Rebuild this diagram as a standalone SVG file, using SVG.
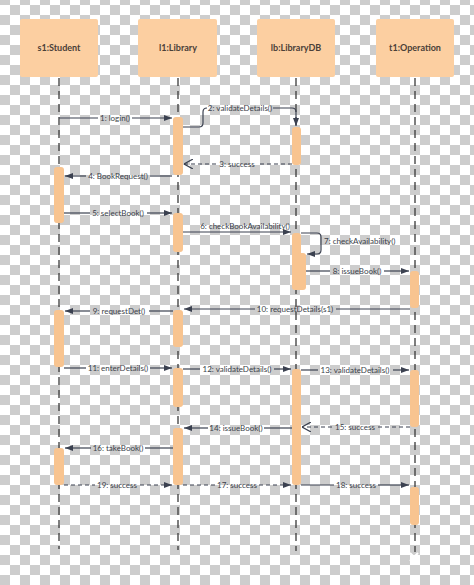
<svg xmlns="http://www.w3.org/2000/svg" width="474" height="585" viewBox="0 0 474 585">
<defs>
<pattern id="chk" x="0" y="5" width="20" height="20" patternUnits="userSpaceOnUse">
<rect width="20" height="20" fill="#ffffff"/>
<rect x="10" y="0" width="10" height="10" fill="#cdcdcd"/>
<rect x="0" y="10" width="10" height="10" fill="#cdcdcd"/>
</pattern>
<marker id="af" viewBox="0 0 8 6" refX="8" refY="3" markerWidth="8" markerHeight="6" markerUnits="userSpaceOnUse" orient="auto">
<path d="M0,0 L8,3 L0,6 z" fill="#3b4150"/>
</marker>
<marker id="ao" viewBox="0 0 9 10" refX="9" refY="5" markerWidth="9" markerHeight="10" markerUnits="userSpaceOnUse" orient="auto">
<path d="M0,0 L9,5 L0,10" fill="none" stroke="#3b4150" stroke-width="1.2"/>
</marker>
<style>
.box{fill:#fccfa1;}
.hdr{font-family:Lato,"Liberation Sans",sans-serif;font-weight:bold;font-size:9px;fill:#4a4038;text-anchor:middle;}
.life{stroke:#3a3a3a;stroke-width:1.3;stroke-dasharray:8 5;fill:none;}
.act{fill:#f8c490;}
.m{stroke:#3b4150;stroke-width:1.2;fill:none;}
.d{stroke:#3b4150;stroke-width:1.2;fill:none;stroke-dasharray:4 3;}
.lbl{font-family:Lato,"Liberation Sans",sans-serif;font-size:8px;fill:#3b3f4a;text-anchor:middle;dominant-baseline:central;}
</style>
</defs>
<rect width="474" height="585" fill="url(#chk)"/>

<g id="student">
<rect class="box" x="20" y="19" width="78" height="58" rx="2"/>
<text class="hdr" x="59" y="51">s1:Student</text>
<line class="life" x1="59" y1="78" x2="59" y2="549"/>
<rect class="act" x="54" y="167" width="10" height="56" rx="3"/>
<rect class="act" x="54" y="310" width="10" height="57" rx="3"/>
<rect class="act" x="54" y="448" width="10" height="37" rx="3"/>
</g>
<g id="library">
<rect class="box" x="138" y="19" width="79" height="58" rx="2"/>
<text class="hdr" x="178" y="51">l1:Library</text>
<line class="life" x1="178" y1="78" x2="178" y2="550"/>
<rect class="act" x="173" y="117" width="10" height="58" rx="3"/>
<rect class="act" x="173" y="213" width="10" height="39" rx="3"/>
<rect class="act" x="173" y="310" width="10" height="37" rx="3"/>
<rect class="act" x="173" y="368" width="10" height="39" rx="3"/>
<rect class="act" x="173" y="428" width="10" height="57" rx="3"/>
</g>
<g id="librarydb">
<rect class="box" x="257" y="19" width="78" height="58" rx="2"/>
<text class="hdr" x="296" y="51">lb:LibraryDB</text>
<line class="life" x1="296" y1="78" x2="296" y2="551"/>
<rect class="act" x="292" y="127" width="9" height="38" rx="3"/>
<rect class="act" x="292" y="233" width="9" height="57" rx="3"/>
<rect class="act" x="297" y="253" width="9" height="37" rx="3"/>
<rect class="act" x="292" y="369" width="9" height="116" rx="3"/>
</g>
<g id="operation">
<rect class="box" x="376" y="19" width="78" height="58" rx="2"/>
<text class="hdr" x="415" y="51">t1:Operation</text>
<line class="life" x1="415" y1="78" x2="415" y2="552"/>
<rect class="act" x="410" y="271" width="9" height="37" rx="3"/>
<rect class="act" x="410" y="370" width="9" height="57" rx="3"/>
<rect class="act" x="410" y="487" width="9" height="38" rx="3"/>
<path d="M410,553 L418,561 M418,553 L410,561" stroke="#ffffff" stroke-width="2"/>
</g>

<g id="connectors">
<path class="m" d="M59,118 H98"/><path class="m" d="M132,118 H172" marker-end="url(#af)"/>
<text class="lbl" x="115" y="118">1: login()</text>

<path class="m" d="M183,127 H199 Q203,127 203,123 V112 Q203,108 207,108"/>
<path class="m" d="M273,108 H292 Q296,108 296,112 V126" marker-end="url(#af)"/>
<text class="lbl" x="240" y="108">2: validateDetails()</text>

<path class="d" d="M292,164 H258"/><path class="d" d="M216,164 H184" marker-end="url(#ao)"/>
<text class="lbl" x="237" y="164">3: success</text>

<path class="m" d="M172,176 H150"/><path class="m" d="M86,176 H65" marker-end="url(#af)"/>
<text class="lbl" x="118" y="176">4: BookRequest()</text>

<path class="m" d="M64,213 H90"/><path class="m" d="M147,213 H172" marker-end="url(#af)"/>
<text class="lbl" x="118" y="213">5: selectBook()</text>

<path class="m" d="M183,232 H291" marker-end="url(#af)"/>
<text class="lbl" x="245" y="226">6: checkBookAvailability()</text>

<path class="m" d="M301,233 H317 Q321,233 321,237 V250 Q321,254 317,254 H307" marker-end="url(#af)"/>
<text class="lbl" x="324" y="241" style="text-anchor:start">7: checkAvailability()</text>

<path class="m" d="M306,271 H330"/><path class="m" d="M384,271 H409" marker-end="url(#af)"/>
<text class="lbl" x="357" y="271">8: issueBook()</text>

<path class="m" d="M410,309 H336"/><path class="m" d="M255,309 H184" marker-end="url(#af)"/>
<text class="lbl" x="295" y="309">10: requestDetails(s1)</text>

<path class="m" d="M173,311 H149"/><path class="m" d="M90,311 H65" marker-end="url(#af)"/>
<text class="lbl" x="119" y="311">9: requestDet()</text>

<path class="m" d="M64,368 H86"/><path class="m" d="M150,368 H172" marker-end="url(#af)"/>
<text class="lbl" x="118" y="368">11: enterDetails()</text>

<path class="m" d="M183,369 H200"/><path class="m" d="M274,369 H291" marker-end="url(#af)"/>
<text class="lbl" x="237" y="369">12: validateDetails()</text>

<path class="m" d="M301,370 H318"/><path class="m" d="M393,370 H409" marker-end="url(#af)"/>
<text class="lbl" x="355" y="370">13: validateDetails()</text>

<path class="m" d="M292,428 H264"/><path class="m" d="M208,428 H184" marker-end="url(#af)"/>
<text class="lbl" x="236" y="428">14: issueBook()</text>

<path class="d" d="M410,427 H378"/><path class="d" d="M332,427 H302" marker-end="url(#ao)"/>
<text class="lbl" x="355" y="427">15: success</text>

<path class="m" d="M173,448 H145"/><path class="m" d="M91,448 H65" marker-end="url(#af)"/>
<text class="lbl" x="118" y="448">16: takeBook()</text>

<path class="d" d="M64,485 H95"/><path class="d" d="M140,485 H172" marker-end="url(#af)"/>
<text class="lbl" x="117" y="485">19: success</text>

<path class="d" d="M183,485 H215"/><path class="d" d="M259,485 H291" marker-end="url(#af)"/>
<text class="lbl" x="237" y="485">17: success</text>

<path class="m" d="M301,485 H334"/><path class="m" d="M378,485 H409" marker-end="url(#af)"/>
<text class="lbl" x="356" y="485">18: success</text>
</g>
</svg>
